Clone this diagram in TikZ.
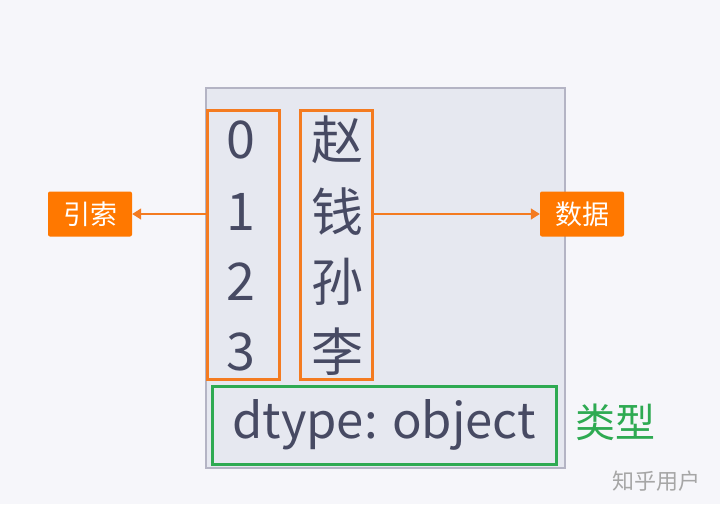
\documentclass[tikz,border=0pt]{standalone}
\usepackage{fontspec}
\newfontfamily\cjk{Noto Sans CJK SC}
\usetikzlibrary{arrows.meta}

\definecolor{pagebg}{HTML}{F6F6FA}
\definecolor{seriesbg}{HTML}{E6E8F0}
\definecolor{seriesline}{HTML}{B4B4C4}
\definecolor{ink}{HTML}{474A63}
\definecolor{orng}{HTML}{F47B20}
\definecolor{tagfill}{HTML}{FF7800}
\definecolor{grn}{HTML}{2EAA52}

\begin{document}
\begin{tikzpicture}[x=1pt, y=-1pt,
    every node/.style={font=\cjk},
    cell/.style={anchor=center, text=ink, font=\cjk\fontsize{52}{52}\selectfont},
    colbox/.style={draw=orng, line width=3pt, minimum width=72pt, minimum height=269pt, inner sep=0pt},
    tag/.style={fill=tagfill, text=white, rounded corners=2pt, minimum width=84pt, minimum height=45pt,
                inner sep=0pt, font=\cjk\fontsize{27}{27}\selectfont},
    link/.style={orng, line width=1.5pt, -{Triangle[length=9pt, width=11pt]}}]
  \fill[pagebg] (0,0) rectangle (720,504);
  \useasboundingbox (0,0) rectangle (720,504);
  % the series
  \node[draw=seriesline, fill=seriesbg, line width=1.2pt, minimum width=359pt, minimum height=380pt, inner sep=0pt]
    (series) at (385.5,278) {};
  \node[colbox] (idx) at (243,244.5) {};
  \node[colbox] (vals) at (336.5,244.5) {};
  \node[cell] (i0) at (241,140) {0};
  \node[cell] (i1) at (241,212) {1};
  \node[cell] (i2) at (241,282) {2};
  \node[cell] (i3) at (241,352) {3};
  \node[cell] (v0) at (337,140) {赵};
  \node[cell] (v1) at (337,212) {钱};
  \node[cell] (v2) at (337,282) {孙};
  \node[cell] (v3) at (337,352) {李};
  \node[draw=grn, line width=3pt, minimum width=344pt, minimum height=78pt, inner sep=0pt,
        text=ink, font=\cjk\fontsize{49}{49}\selectfont] (dtype) at (384,425) {dtype: object};
  % labels
  \node[tag] (yin) at (90,214) {引索};
  \node[tag] (shu) at (582,214) {数据};
  \draw[link] (idx.west |- yin) -- (yin.east);
  \draw[link] (vals.east |- shu) -- (shu.west);
  \node[text=grn, font=\cjk\fontsize{40}{40}\selectfont] (leixing) at (615,422) {类型};
  \node[text=black!35, font=\cjk\fontsize{22}{22}\selectfont] (mark) at (656,481) {知乎用户};
\end{tikzpicture}
\end{document}
